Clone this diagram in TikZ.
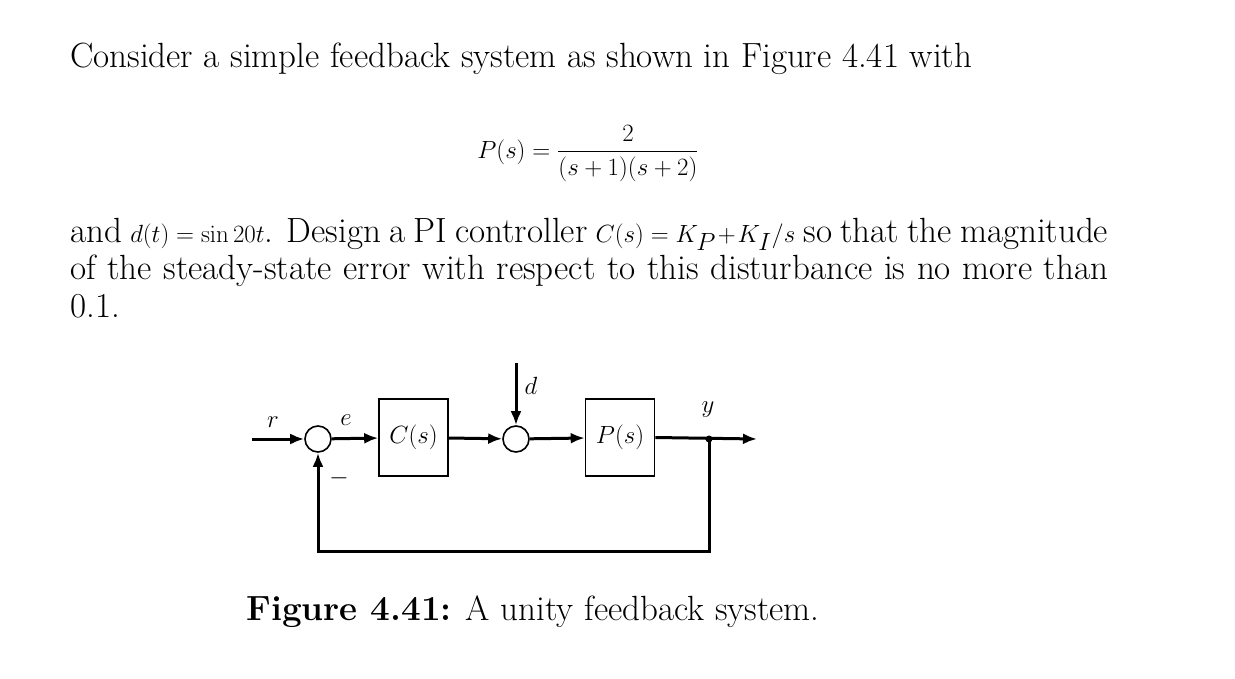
\documentclass[tikz,border=0pt]{standalone}
\usepackage{amsmath}
\usetikzlibrary{arrows.meta}
\begin{document}
\begin{tikzpicture}[x=1pt,y=-1pt,
  blk/.style={draw,line width=1.6pt,minimum width=69pt,minimum height=77pt,inner sep=0pt,font=\fontsize{23}{26}\selectfont},
  sumc/.style={draw,circle,line width=1.6pt,minimum size=26pt,inner sep=0pt},
  sig/.style={line width=3pt,-{Latex[length=14pt,width=11pt]}},
  lab/.style={font=\fontsize{23}{26}\selectfont},
  txt/.style={font=\fontsize{35}{37.5}\selectfont}]
\useasboundingbox (0,0) rectangle (1235,678);
\node[txt,anchor=base west,inner sep=0] (l1) at (70,67) {Consider a simple feedback system as shown in Figure 4.41 with};
\node[txt,anchor=base,inner sep=0] (eq) at (588,158) {$\displaystyle P(s)=\frac{2}{(s+1)(s+2)}$};
\node[txt,anchor=north west,inner sep=0,text width=1038pt,align=justify] (par) at (70,218)
 {and $d(t)=\sin 20t$. Design a PI controller $C(s)=K_P+K_I/s$ so that the magnitude of the steady-state error with respect to this disturbance is no more than 0.1.\par};
\node[sumc] (s1) at (318,439) {};
\node[blk] (C) at (413.5,437.5) {$C(s)$};
\node[sumc] (s2) at (516,439) {};
\node[blk] (P) at (620,437.5) {$P(s)$};
\coordinate (in) at (252,439);
\coordinate (dtop) at (516,363);
\coordinate (br) at (709,439);
\coordinate (out) at (757,439);
\coordinate (fb) at (709,551);
\coordinate (fb2) at (318,551);
\draw[sig] (in) -- (s1);
\draw[sig] (s1) -- (C);
\draw[sig] (C) -- (s2);
\draw[sig] (dtop) -- (s2);
\draw[sig] (s2) -- (P);
\draw[sig] (P.east) -- (out);
\fill (br) circle (3.5pt);
\draw[sig] (br) -- (fb) -- (fb2) -- (s1);
\node[lab] (r) at (273,422) {$r$};
\node[lab] (e) at (346,420) {$e$};
\node[lab] (d) at (531,386) {$d$};
\node[lab] (y) at (708,410) {$y$};
\node[lab] (m) at (339,478) {$-$};
\node[txt,anchor=base,inner sep=0] (cap) at (533,620) {\textbf{Figure 4.41:} A unity feedback system.};
\end{tikzpicture}
\end{document}
